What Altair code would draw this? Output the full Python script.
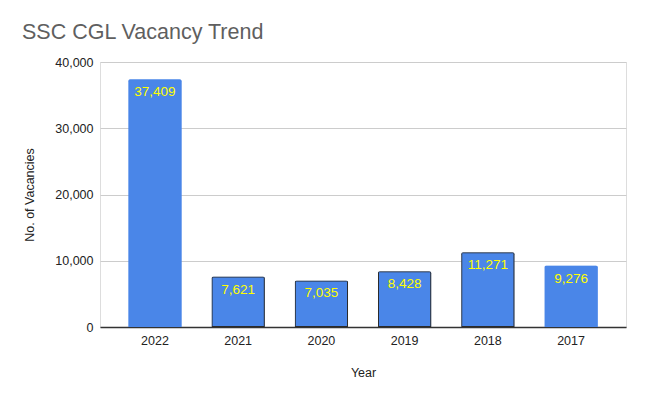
import altair as alt
import pandas as pd

years = ["2022", "2021", "2020", "2019", "2018", "2017"]
vacancies = [37409, 7621, 7035, 8428, 11271, 9276]
outline = ["#4a86e8", "#2b2b2b", "#2b2b2b", "#2b2b2b", "#2b2b2b", "#4a86e8"]

df = pd.DataFrame({"Year": years, "Vacancies": vacancies, "outline": outline})

FONT = "Arial, Liberation Sans, sans-serif"

x = alt.X("Year:N", sort=years, title="Year",
          scale=alt.Scale(paddingInner=0.36, paddingOuter=0.34),
          axis=alt.Axis(labelAngle=0, labelFontSize=12.5, labelColor="#222222",
                        labelFont=FONT, labelPadding=7, ticks=False,
                        domainColor="#333333", domainWidth=1.5,
                        titleFont=FONT, titleFontSize=12.5, titleFontWeight="normal",
                        titleColor="#222222", titlePadding=20))
y = alt.Y("Vacancies:Q", title="No. of Vacancies",
          scale=alt.Scale(domain=[0, 40000]),
          axis=alt.Axis(values=[0, 10000, 20000, 30000, 40000], format=",.0f",
                        labelFontSize=12.5, labelColor="#222222", labelFont=FONT,
                        labelPadding=7, ticks=False, domain=False,
                        gridColor="#cccccc", gridWidth=1,
                        titleFont=FONT, titleFontSize=12.5, titleFontWeight="normal",
                        titleColor="#222222", titlePadding=18))

bars = alt.Chart(df).mark_bar(color="#4a86e8", strokeWidth=2,
                              cornerRadiusTopLeft=2, cornerRadiusTopRight=2).encode(
    x=x, y=y, stroke=alt.Stroke("outline:N", scale=None))

labels = alt.Chart(df).mark_text(color="#ffff00", fontSize=13.5, font=FONT,
                                 baseline="top", dy=6).encode(
    x=x, y=y,
    text=alt.Text("Vacancies:Q", format=","))

chart = (bars + labels).properties(
    width=526, height=265,
    autosize=alt.AutoSizeParams(type="none"),
    padding={"left": 92, "top": 54, "right": 10, "bottom": 60},
    title=alt.TitleParams("SSC CGL Vacancy Trend", anchor="start", frame="group",
                          font=FONT, fontSize=21.5, fontWeight="normal",
                          color="#5f5f5f", dx=-78, offset=13),
).configure_view(stroke=None).configure(background="white")

chart.save("out.html", embed_options={"renderer": "svg", "actions": False})
